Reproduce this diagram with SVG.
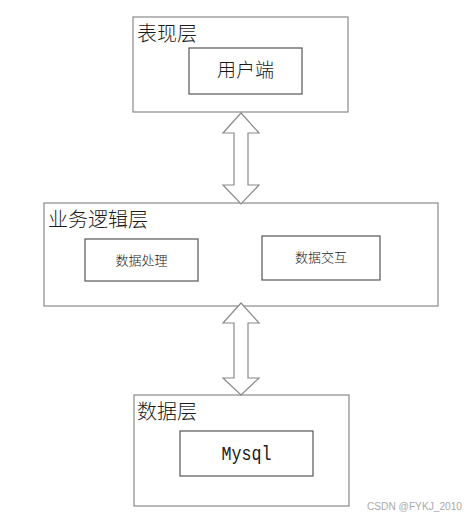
<svg xmlns="http://www.w3.org/2000/svg" width="474" height="518" viewBox="0 0 474 518">
<style>
.outer{fill:#fff;stroke:#8a8a8a;stroke-width:1.2}
.inner{fill:#fff;stroke:#555;stroke-width:1.2}
.title{font-family:"Noto Sans CJK SC","Noto Sans",sans-serif;font-size:20px;font-weight:300;fill:#1a1a1a}
.label{font-family:"Noto Sans CJK SC","Noto Sans",sans-serif;font-weight:300;fill:#1a1a1a;text-anchor:middle}
.arrow{fill:#fff;stroke:#8a8a8a;stroke-width:1.2;stroke-linejoin:miter}
</style>
<rect width="474" height="518" fill="#fff"/>
<g id="presentation-layer">
<rect class="outer" x="133" y="17" width="215" height="95"/>
<text class="title" x="137" y="41">表现层</text>
<g id="client">
<rect class="inner" x="189" y="48" width="113" height="46"/>
<text class="label" x="245.5" y="77" font-size="19">用户端</text>
</g>
</g>
<g id="business-layer">
<rect class="outer" x="44" y="203" width="394" height="103"/>
<text class="title" x="48" y="227">业务逻辑层</text>
<g id="data-processing">
<rect class="inner" x="85" y="239" width="113" height="42"/>
<text class="label" x="141.5" y="264.5" font-size="13">数据处理</text>
</g>
<g id="data-interaction">
<rect class="inner" x="262" y="236" width="118" height="44"/>
<text class="label" x="321" y="262" font-size="13">数据交互</text>
</g>
</g>
<g id="data-layer">
<rect class="outer" x="134" y="395" width="215" height="111"/>
<text class="title" x="137" y="419">数据层</text>
<g id="mysql">
<rect class="inner" x="180" y="431" width="133" height="45"/>
<text class="label" x="246.5" y="460" font-size="20" style="font-family:'Liberation Mono',monospace;font-weight:400" textLength="50" lengthAdjust="spacingAndGlyphs">Mysql</text>
</g>
</g>
<g id="connectors">
<path class="arrow" d="M241,113 L259,133 L248,133 L248,185 L259,185 L241,204 L223,185 L234,185 L234,133 L223,133 Z"/>
<path class="arrow" d="M241,303 L259,323 L248,323 L248,378 L259,378 L241,395 L223,378 L234,378 L234,323 L223,323 Z"/>
</g>
<text x="367" y="510" font-family="Liberation Sans, Arial, sans-serif" font-size="10" fill="#aaa" textLength="95" lengthAdjust="spacingAndGlyphs">CSDN @FYKJ_2010</text>
</svg>
